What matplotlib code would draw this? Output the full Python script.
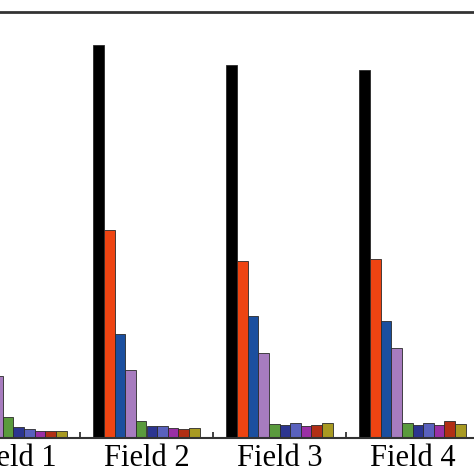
import matplotlib
matplotlib.use('Agg')
import matplotlib.pyplot as plt
import numpy as np

# chart values (arbitrary units, left axis is cropped off in the reference)
fields = ['Field 1', 'Field 2', 'Field 3', 'Field 4']
series_colors = ['#000000', '#ee4412', '#1b4f9f', '#a77cbf', '#5a9a3d',
                 '#2c3590', '#5961bd', '#9a2fa5', '#b12f15', '#a89a22']
f1 = [390.0, 200.0, 130.0, 62.0, 21.0, 11.0, 8.5, 7.0, 7.0, 6.5]
f2 = [392.5, 207.5, 104.0, 68.0, 17.0, 12.0, 11.5, 9.5, 8.5, 9.5]
f3 = [372.5, 177.0, 122.0, 84.5, 14.0, 13.0, 15.0, 11.5, 13.0, 14.5]
f4 = [367.5, 178.5, 116.5, 89.5, 15.0, 13.0, 15.0, 12.5, 16.5, 14.0]

values = np.array([f1, f2, f3, f4])
nser = values.shape[1]
group_w = 0.8
bw = group_w / nser

fg = plt.figure(figsize=(4.74, 4.74), dpi=100)
# axes deliberately wider than the figure: the reference is a crop
ax = fg.add_axes([-53/474, 36.5/474, 532/474, 426/474])

x = np.arange(len(fields))
for j in range(nser):
    ax.bar(x - group_w/2 + (j + 0.5)*bw, values[:, j], width=bw,
           color=series_colors[j], edgecolor='#2a2a2a', linewidth=0.6,
           align='center', zorder=2)

ax.set_xlim(-0.5, len(fields) - 0.5)
ax.set_ylim(0, 426)

ax.set_xticks(x)
ax.set_xticklabels(fields, family='Liberation Serif', fontsize=22)
ax.tick_params(axis='x', which='major', length=0, pad=5)
ax.set_xticks(np.arange(-0.5, len(fields)), minor=True)
ax.tick_params(axis='x', which='minor', direction='in', length=4, width=1.3, color='#333333')
ax.set_yticks([])

for s in ('top', 'bottom', 'left', 'right'):
    ax.spines[s].set_color('#333333')
    ax.spines[s].set_linewidth(1.5)
ax.spines['top'].set_linewidth(2)

fg.savefig('out.png', dpi=100)
